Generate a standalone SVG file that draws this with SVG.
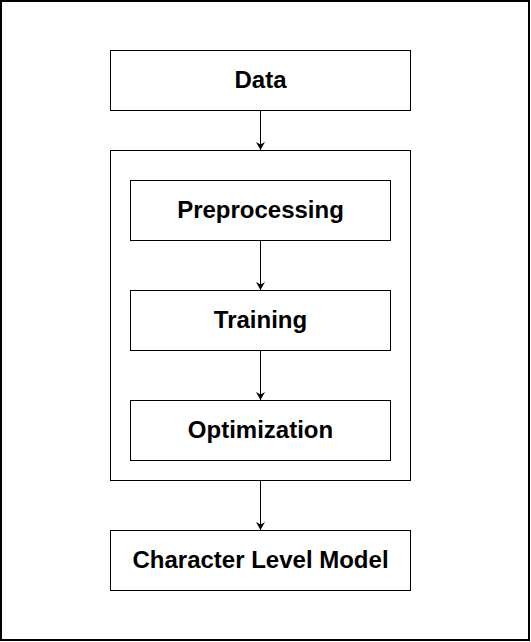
<svg xmlns="http://www.w3.org/2000/svg" width="531" height="642" viewBox="0 0 531 642">
<style>
.box{fill:#fff;stroke:#000;stroke-width:1}
.lbl{font-family:"Liberation Sans",Arial,sans-serif;font-weight:bold;font-size:24px;fill:#000;text-anchor:middle}
.con{stroke:#000;stroke-width:1;fill:none;marker-end:url(#ah)}
</style>
<defs>
<marker id="ah" markerWidth="9" markerHeight="10" refX="8" refY="5" orient="auto" markerUnits="userSpaceOnUse">
<path d="M0,0.5 L8,5 L0,9.5 L2.5,5 Z" fill="#000"/>
</marker>
</defs>
<rect x="1" y="1" width="528" height="639" fill="#fff" stroke="#000" stroke-width="2"/>
<g id="data"><rect class="box" x="110.5" y="50.5" width="300" height="60"/><text class="lbl" x="260.5" y="88">Data</text></g>
<g id="container"><rect class="box" x="110.5" y="150.5" width="300" height="330"/></g>
<g id="preprocessing"><rect class="box" x="130.5" y="180.5" width="260" height="60"/><text class="lbl" x="260.5" y="218">Preprocessing</text></g>
<g id="training"><rect class="box" x="130.5" y="290.5" width="260" height="60"/><text class="lbl" x="260.5" y="328">Training</text></g>
<g id="optimization"><rect class="box" x="130.5" y="400.5" width="260" height="60"/><text class="lbl" x="260.5" y="438">Optimization</text></g>
<g id="model"><rect class="box" x="110.5" y="530.5" width="300" height="60"/><text class="lbl" x="260.5" y="568">Character Level Model</text></g>
<g id="connectors">
<line class="con" x1="260.5" y1="110.5" x2="260.5" y2="150"/>
<line class="con" x1="260.5" y1="240.5" x2="260.5" y2="290"/>
<line class="con" x1="260.5" y1="350.5" x2="260.5" y2="400"/>
<line class="con" x1="260.5" y1="480.5" x2="260.5" y2="530"/>
</g>
</svg>
